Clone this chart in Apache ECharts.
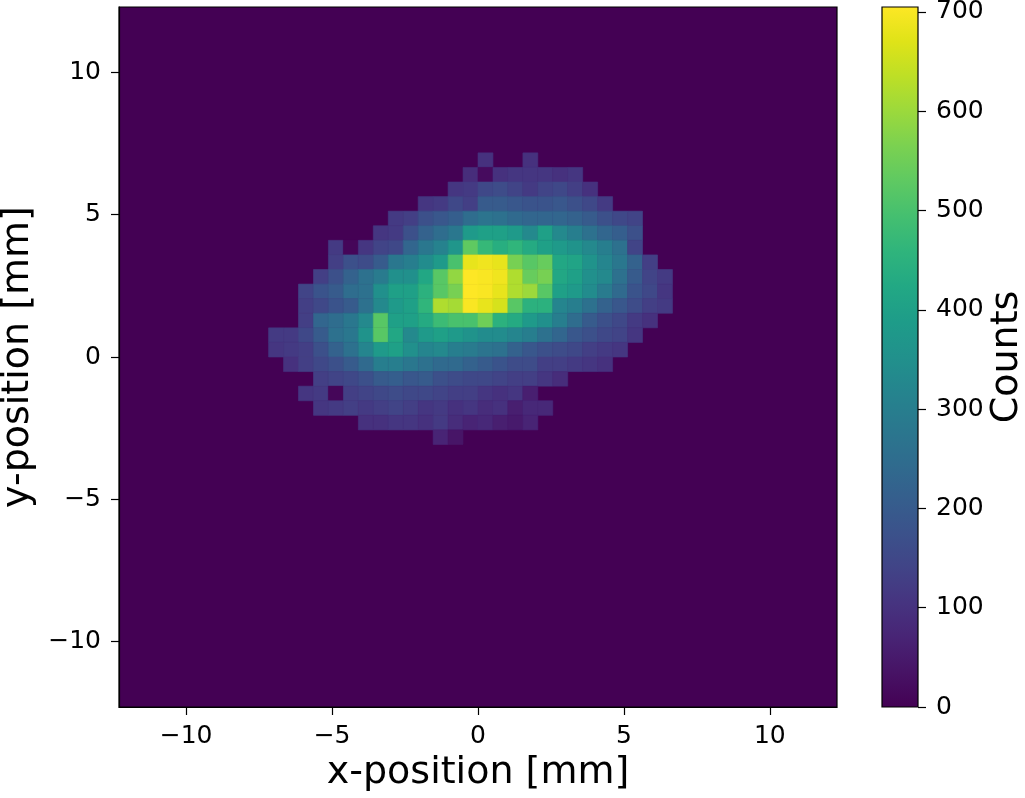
<!DOCTYPE html>
<html><head><meta charset="utf-8">
<script src="https://cdn.jsdelivr.net/npm/echarts@6/dist/echarts.min.js"></script>
<style>html,body{margin:0;padding:0;background:#fff}#c{width:1025px;height:798px}</style>
</head><body><div id="c"></div>
<script>
// Histogram binning (mm)
const histRange = [-12.3, 12.3];
const binCount = 48;
// first column / top row of the non-empty block, as bin offsets from 0 mm
const firstCol = -14;
const topRow = 13;
// counts, rows from top (y bin 13) to bottom (y bin -6), columns x bin -14 .. 12
const countsByRow = [
  [0,0,0,0,0,0,0,0,0,0,0,0,0,0,100,0,0,100,0,0,0,0,0,0,0,0,0],
  [0,0,0,0,0,0,0,0,0,0,0,0,0,90,20,100,110,110,110,100,110,0,0,0,0,0,0],
  [0,0,0,0,0,0,0,0,0,0,0,0,110,120,150,160,140,120,140,150,130,100,0,0,0,0,0],
  [0,0,0,0,0,0,0,0,0,0,110,120,150,130,200,200,190,180,180,190,170,150,120,0,0,0,0],
  [0,0,0,0,0,0,0,0,120,130,170,190,210,250,270,260,240,230,230,230,220,200,170,150,140,0,0],
  [0,0,0,0,0,0,0,110,120,170,220,250,280,380,400,400,380,330,400,330,300,260,230,210,170,0,0],
  [0,0,0,0,120,10,110,140,150,230,280,310,370,530,470,440,460,430,400,380,360,330,300,260,140,0,0],
  [0,0,0,0,130,170,160,200,280,300,340,380,500,680,690,680,560,520,540,420,410,360,320,280,220,130,0],
  [0,0,0,130,170,220,260,290,350,350,420,520,590,705,700,690,620,540,560,420,400,350,330,260,200,140,120],
  [0,0,140,180,200,250,260,350,400,400,450,520,560,705,700,680,620,600,520,400,380,340,290,240,180,150,110],
  [0,0,130,150,180,200,260,330,380,400,460,620,610,700,680,660,520,450,450,320,300,260,220,190,160,130,120],
  [0,0,130,230,250,280,330,520,400,400,430,480,500,500,550,450,430,380,350,300,250,200,170,150,120,100,0],
  [120,120,150,200,260,280,360,520,420,330,380,400,380,360,340,340,320,300,260,230,190,170,150,140,110,0,0],
  [110,120,130,170,220,260,320,380,400,350,320,330,300,290,270,260,220,190,170,160,150,130,120,110,0,0,0],
  [0,100,130,150,170,200,240,300,300,280,260,240,240,220,200,180,160,160,130,130,120,110,100,0,0,0,0],
  [0,0,0,130,140,150,170,200,210,190,200,170,160,150,150,140,130,130,110,90,0,0,0,0,0,0,0],
  [0,0,110,120,10,130,140,150,160,150,150,140,130,130,110,100,110,60,0,0,0,0,0,0,0,0,0],
  [0,0,0,110,120,130,120,130,140,130,110,120,100,110,90,100,60,80,80,0,0,0,0,0,0,0,0],
  [0,0,0,0,0,0,100,100,110,110,100,120,90,70,80,60,50,70,0,0,0,0,0,0,0,0,0],
  [0,0,0,0,0,0,0,0,0,0,0,70,40,0,0,0,0,0,0,0,0,0,0,0,0,0,0]
];
const xTicks = [-10, -5, 0, 5, 10];
const yTicks = [-10, -5, 0, 5, 10];
const cbarTicks = [0, 100, 200, 300, 400, 500, 600, 700];
const cbarMax = 705;
const xTitle = 'x-position [mm]';
const yTitle = 'y-position [mm]';
const cbarTitle = 'Counts';
const viridis = ['#440154','#471365','#482475','#463480','#414487','#3b528b','#355f8d','#2f6c8e','#2a788e','#25848e','#21918c','#1e9c89','#22a884','#2fb47c','#44bf70','#5ec962','#7ad151','#9bd93c','#bddf26','#dfe318','#fde725'];

const binW = (histRange[1] - histRange[0]) / binCount;
const cells = [];
countsByRow.forEach((row, r) => {
  row.forEach((v, c) => {
    if (v > 0) cells.push([(firstCol + c) * binW, (topRow - r) * binW, v]);
  });
});

const FONT = 'DejaVu Sans';
const fmt = v => String(v).replace('-', '\u2212');
const tickStyle = {show: true, inside: false, length: 8, lineStyle: {color: '#000', width: 1.2}};
const labelStyle = {color: '#000', fontSize: 25, fontFamily: FONT};
const titleStyle = {color: '#000', fontSize: 38, fontFamily: FONT};

const chart = echarts.init(document.getElementById('c'), null, {renderer: 'canvas'});
chart.setOption({
  animation: false,
  backgroundColor: '#fff',
  grid: [
    {left: 119, top: 7, width: 718, height: 700, show: true, backgroundColor: viridis[0], borderColor: '#000', borderWidth: 1.2,
     containLabel: false, outerBoundsMode: 'none'},
    {left: 882, top: 7, width: 36, height: 700, show: false, containLabel: false, outerBoundsMode: 'none'}
  ],
  xAxis: [
    {gridIndex: 0, type: 'value', min: histRange[0], max: histRange[1],
     axisLine: {show: true, onZero: false, lineStyle: {color: '#000', width: 1.2}},
     axisTick: Object.assign({customValues: xTicks}, tickStyle),
     axisLabel: Object.assign({customValues: xTicks, formatter: fmt, margin: 17}, labelStyle),
     splitLine: {show: false},
     name: xTitle, nameLocation: 'middle', nameGap: 44, nameTextStyle: titleStyle},
    {gridIndex: 1, type: 'value', min: 0, max: 1, show: false}
  ],
  yAxis: [
    {gridIndex: 0, type: 'value', min: histRange[0], max: histRange[1],
     axisLine: {show: true, onZero: false, lineStyle: {color: '#000', width: 1.2}},
     axisTick: Object.assign({customValues: yTicks}, tickStyle),
     axisLabel: Object.assign({customValues: yTicks, formatter: fmt, margin: 18}, labelStyle),
     splitLine: {show: false},
     name: yTitle, nameLocation: 'middle', nameGap: 72, nameRotate: 90, nameTextStyle: titleStyle},
    {gridIndex: 1, type: 'value', min: 0, max: cbarMax, position: 'right',
     axisLine: {show: false, onZero: false},
     axisTick: Object.assign({customValues: cbarTicks}, tickStyle),
     axisLabel: Object.assign({customValues: cbarTicks, margin: 18}, labelStyle),
     splitLine: {show: false},
     name: cbarTitle, nameLocation: 'middle', nameGap: 70, nameRotate: 90, nameTextStyle: titleStyle}
  ],
  visualMap: {
    show: false, type: 'continuous', seriesIndex: 0, dimension: 2,
    min: 0, max: cbarMax, inRange: {color: viridis}
  },
  series: [
    {
      type: 'custom', xAxisIndex: 0, yAxisIndex: 0, data: cells, clip: true,
      renderItem: function (params, api) {
        const x0 = api.value(0), y0 = api.value(1);
        const p1 = api.coord([x0, y0 + binW]);
        const p2 = api.coord([x0 + binW, y0]);
        const col = api.visual('color');
        return {type: 'rect',
          shape: {x: p1[0], y: p1[1], width: p2[0] - p1[0], height: p2[1] - p1[1]},
          style: {fill: col, stroke: col, lineWidth: 0.6}};
      }
    },
    {
      type: 'custom', xAxisIndex: 1, yAxisIndex: 1, data: [[0, 0, cbarMax]],
      renderItem: function (params, api) {
        const p1 = api.coord([0, api.value(2)]);
        const p2 = api.coord([1, api.value(1)]);
        const stops = viridis.map((c, i) => ({offset: i / (viridis.length - 1), color: c}));
        return {type: 'rect',
          shape: {x: p1[0], y: p1[1], width: p2[0] - p1[0], height: p2[1] - p1[1]},
          style: {fill: {type: 'linear', x: 0, y: 1, x2: 0, y2: 0, colorStops: stops},
                  stroke: '#000', lineWidth: 1.2}};
      }
    }
  ]
});
</script></body></html>
